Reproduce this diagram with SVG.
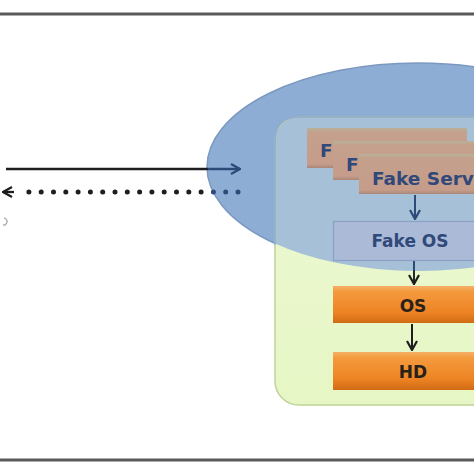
<svg xmlns="http://www.w3.org/2000/svg" width="474" height="474" viewBox="0 0 474 474">
<style>
.lbl{font-family:"DejaVu Sans",Verdana,sans-serif;font-weight:bold;font-size:17px}
.big{font-size:18.5px}
.blue{fill:#31497a}
.dark{fill:#2a2218}
.rule{stroke:#5a5a5a;stroke-width:3}
</style>
<defs>
<linearGradient id="gSolid" gradientUnits="userSpaceOnUse" x1="0" y1="0" x2="474" y2="0">
<stop offset="0" stop-color="#1e1e1e"/><stop offset="0.437" stop-color="#1e1e1e"/><stop offset="0.44" stop-color="#2d4b78"/><stop offset="1" stop-color="#2d4b78"/>
</linearGradient>
<linearGradient id="gDown" gradientUnits="userSpaceOnUse" x1="0" y1="260" x2="0" y2="285">
<stop offset="0" stop-color="#2d4b78"/><stop offset="0.4" stop-color="#2d4b78"/><stop offset="0.45" stop-color="#1e2a2a"/><stop offset="1" stop-color="#1e2a2a"/>
</linearGradient>
<linearGradient id="gCard" x1="0" y1="0" x2="0" y2="1">
<stop offset="0" stop-color="#b7b299"/><stop offset="0.1" stop-color="#c4a18d"/><stop offset="0.9" stop-color="#c69c8a"/><stop offset="1" stop-color="#a98678"/>
</linearGradient>
<linearGradient id="gOrange" x1="0" y1="0" x2="0" y2="1">
<stop offset="0" stop-color="#f6b068"/><stop offset="0.15" stop-color="#f49a3e"/><stop offset="0.7" stop-color="#ee8424"/><stop offset="1" stop-color="#d06c14"/>
</linearGradient>
<linearGradient id="gGreen" x1="0" y1="0" x2="0" y2="1">
<stop offset="0" stop-color="#eef9d6"/><stop offset="1" stop-color="#e6f6c4"/>
</linearGradient>
<clipPath id="rectClip"><rect x="275" y="117" width="240" height="288" rx="24"/></clipPath>
<marker id="headBlue" viewBox="0 0 12 12" refX="11" refY="6" markerWidth="12" markerHeight="12" markerUnits="userSpaceOnUse" orient="auto">
<path d="M2,1 L11,6 L2,11" fill="none" stroke="#2d4b78" stroke-width="2.2"/>
</marker>
<marker id="headDark" viewBox="0 0 12 12" refX="11" refY="6" markerWidth="12" markerHeight="12" markerUnits="userSpaceOnUse" orient="auto">
<path d="M2,1 L11,6 L2,11" fill="none" stroke="#1e1e1e" stroke-width="2.2"/>
</marker>
</defs>
<rect width="474" height="474" fill="#ffffff"/>
<line class="rule" x1="0" y1="14" x2="474" y2="14"/>
<line class="rule" x1="0" y1="460" x2="474" y2="460"/>
<path d="M4,218 A3.5,3.5 0 1 1 3,225" fill="none" stroke="#b0b0b0" stroke-width="1.5"/>

<g id="ellipse">
<ellipse cx="418" cy="167" rx="211" ry="104" fill="#8eadd4" stroke="#7b98c0" stroke-width="1.5"/>
</g>
<g id="host">
<rect x="275" y="117" width="240" height="288" rx="24" fill="url(#gGreen)" stroke="#bfd498" stroke-width="1.5"/>
<ellipse cx="418" cy="167" rx="211" ry="104" fill="#a6c0d8" clip-path="url(#rectClip)"/>
<path d="M275,245 L275,141 Q275,117 299,117 L474,117" fill="none" stroke="#8fadc6" stroke-width="1.5"/>
</g>

<g id="connectors" fill="none">
<line x1="6" y1="169" x2="240" y2="169" stroke="url(#gSolid)" stroke-width="2.3" marker-end="url(#headBlue)"/>
<line x1="238" y1="192" x2="26" y2="192" stroke="url(#gSolid)" stroke-width="5" stroke-linecap="round" stroke-dasharray="0 12.3"/>
<line x1="14" y1="192" x2="3" y2="192" stroke="#1e1e1e" stroke-width="2.3" marker-end="url(#headDark)"/>
<line x1="415" y1="195" x2="415" y2="219" stroke="#2d4b78" stroke-width="2" marker-end="url(#headBlue)"/>
<line x1="414" y1="261" x2="414" y2="284" stroke="url(#gDown)" stroke-width="2" marker-end="url(#headDark)"/>
<line x1="412" y1="324" x2="412" y2="350" stroke="#1e1e1e" stroke-width="2" marker-end="url(#headDark)"/>
</g>

<g id="card1">
<rect x="307" y="128" width="160" height="40" fill="url(#gCard)"/>
<text class="lbl big blue" x="320" y="157">F</text>
</g>
<g id="card2">
<rect x="333" y="141" width="150" height="39" fill="url(#gCard)"/>
<text class="lbl big blue" x="346" y="171">F</text>
</g>
<g id="card3">
<rect x="359" y="154" width="130" height="40" fill="url(#gCard)"/>
<text class="lbl big blue" x="372" y="185">Fake Serv</text>
</g>
<g id="fakeos">
<rect x="333.5" y="221.5" width="150" height="39" fill="#abbad7" stroke="#8d9fc4" stroke-width="1.2"/>
<text class="lbl blue" x="410" y="247" text-anchor="middle">Fake OS</text>
</g>
<g id="os">
<rect x="333" y="286" width="150" height="37" fill="url(#gOrange)"/>
<text class="lbl dark" x="413" y="312" text-anchor="middle">OS</text>
</g>
<g id="hd">
<rect x="333" y="352" width="150" height="38" fill="url(#gOrange)"/>
<text class="lbl dark" x="413" y="378" text-anchor="middle">HD</text>
</g>
</svg>
